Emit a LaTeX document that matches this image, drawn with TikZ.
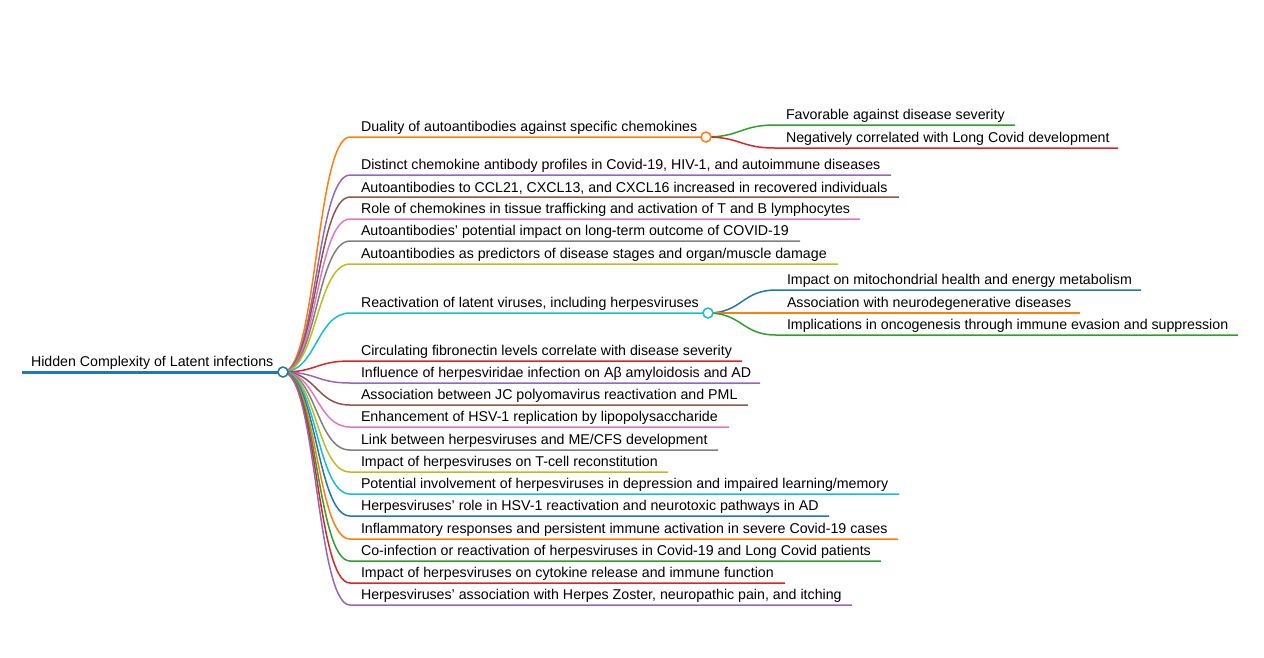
\documentclass[tikz,border=0pt]{standalone}
\usepackage{fontspec}
\setmainfont{Liberation Sans}
\definecolor{cB}{HTML}{1F77B4}\definecolor{cO}{HTML}{FF7F0E}\definecolor{cG}{HTML}{2CA02C}
\definecolor{cR}{HTML}{D62728}\definecolor{cP}{HTML}{9467BD}\definecolor{cBr}{HTML}{8C564B}
\definecolor{cPk}{HTML}{E377C2}\definecolor{cGy}{HTML}{7F7F7F}\definecolor{cOl}{HTML}{BCBD22}
\definecolor{cC}{HTML}{17BECF}
% #1 name #2 parent coord #3 parent x #4 start x #5 y #6 end x #7 color #8 text
\newcommand\mmline[8]{%
  \coordinate (#1s) at (#4,-#5);
  \coordinate (#1e) at (#6,-#5);
  \draw[edge,#7] (#2) .. controls ({(#3+#4)/2},0|-#2) and ({(#3+#4)/2},-#5) .. (#1s) -- (#1e);
  \node[lbl] (#1) at (#4+11,-#5) {#8};
}
\begin{document}
\begin{tikzpicture}[x=1pt,y=1pt,
  edge/.style={line width=1.5pt},
  lbl/.style={anchor=south west,inner sep=0pt,outer sep=0pt,yshift=3pt,font=\fontsize{14.2}{16}\selectfont},
  dot/.style={circle,fill=white,line width=1.5pt,minimum size=10pt,inner sep=0pt}]
\useasboundingbox (0,0) rectangle (1264,-657);
\coordinate (root) at (283,-372);
\coordinate (d1) at (706,-137);
\coordinate (d7) at (708,-313);
\draw[cB,line width=3pt] (22,-372) coordinate (rs) -- (root);
\node[lbl] (rt) at (31,-372) {Hidden Complexity of Latent infections};
\mmline{a1}{root}{283}{350}{137}{706}{cO}{Duality of autoantibodies against specific chemokines}
\mmline{a2}{root}{283}{350}{175}{891}{cP}{Distinct chemokine antibody profiles in Covid-19, HIV-1, and autoimmune diseases}
\mmline{a3}{root}{283}{350}{197}{899}{cBr}{Autoantibodies to CCL21, CXCL13, and CXCL16 increased in recovered individuals}
\mmline{a4}{root}{283}{350}{219}{860}{cPk}{Role of chemokines in tissue trafficking and activation of T and B lymphocytes}
\mmline{a5}{root}{283}{350}{241}{800}{cGy}{Autoantibodies' potential impact on long-term outcome of COVID-19}
\mmline{a6}{root}{283}{350}{264}{838}{cOl}{Autoantibodies as predictors of disease stages and organ/muscle damage}
\mmline{a7}{root}{283}{350}{313}{708}{cC}{Reactivation of latent viruses, including herpesviruses}
\mmline{a8}{root}{283}{350}{361}{742}{cR}{Circulating fibronectin levels correlate with disease severity}
\mmline{a9}{root}{283}{350}{383}{760}{cP}{Influence of herpesviridae infection on Aβ amyloidosis and AD}
\mmline{a10}{root}{283}{350}{405}{748}{cBr}{Association between JC polyomavirus reactivation and PML}
\mmline{a11}{root}{283}{350}{427}{729}{cPk}{Enhancement of HSV-1 replication by lipopolysaccharide}
\mmline{a12}{root}{283}{350}{450}{718}{cGy}{Link between herpesviruses and ME/CFS development}
\mmline{a13}{root}{283}{350}{472}{668}{cOl}{Impact of herpesviruses on T-cell reconstitution}
\mmline{a14}{root}{283}{350}{494}{899}{cC}{Potential involvement of herpesviruses in depression and impaired learning/memory}
\mmline{a15}{root}{283}{350}{516}{829}{cB}{Herpesviruses' role in HSV-1 reactivation and neurotoxic pathways in AD}
\mmline{a16}{root}{283}{350}{539}{898}{cO}{Inflammatory responses and persistent immune activation in severe Covid-19 cases}
\mmline{a17}{root}{283}{350}{561}{881}{cG}{Co-infection or reactivation of herpesviruses in Covid-19 and Long Covid patients}
\mmline{a18}{root}{283}{350}{583}{785}{cR}{Impact of herpesviruses on cytokine release and immune function}
\mmline{a19}{root}{283}{350}{605}{852}{cP}{Herpesviruses' association with Herpes Zoster, neuropathic pain, and itching}
\mmline{b1}{d1}{706}{775}{125}{1015}{cG}{Favorable against disease severity}
\mmline{b2}{d1}{706}{775}{148}{1118}{cR}{Negatively correlated with Long Covid development}
\mmline{c1}{d7}{708}{776}{290}{1141}{cB}{Impact on mitochondrial health and energy metabolism}
\mmline{c2}{d7}{708}{776}{313}{1080}{cO}{Association with neurodegenerative diseases}
\mmline{c3}{d7}{708}{776}{335}{1238}{cG}{Implications in oncogenesis through immune evasion and suppression}
\node[dot,draw=cO] (n1) at (d1) {};
\node[dot,draw=cC] (n7) at (d7) {};
\node[dot,draw=cB] (nr) at (root) {};
\end{tikzpicture}
\end{document}
